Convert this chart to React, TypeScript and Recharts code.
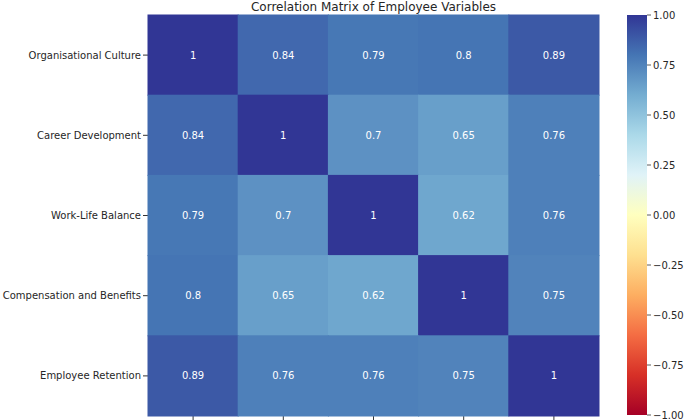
import { ScatterChart, Scatter, XAxis, YAxis } from 'recharts'

// Variables, in matrix order (rows top to bottom, columns left to right)
const variables = [
  'Organisational Culture',
  'Career Development',
  'Work-Life Balance',
  'Compensation and Benefits',
  'Employee Retention',
]

// Correlation values, one array per row
const organisationalCulture = [1, 0.84, 0.79, 0.8, 0.89]
const careerDevelopment = [0.84, 1, 0.7, 0.65, 0.76]
const workLifeBalance = [0.79, 0.7, 1, 0.62, 0.76]
const compensationBenefits = [0.8, 0.65, 0.62, 1, 0.75]
const employeeRetention = [0.89, 0.76, 0.76, 0.75, 1]

const matrix = [organisationalCulture, careerDevelopment, workLifeBalance, compensationBenefits, employeeRetention]

const colorbarTicks = [1, 0.75, 0.5, 0.25, 0, -0.25, -0.5, -0.75, -1]

// matplotlib RdYlBu stops, from -1 to 1
const rdylbu = ['#a50026', '#d73027', '#f46d43', '#fdae61', '#fee090', '#ffffbf', '#e0f3f8', '#abd9e9', '#74add1', '#4575b4', '#313695']

const hex = (c: string) => [1, 3, 5].map((i) => parseInt(c.slice(i, i + 2), 16))

function colorFor(v: number) {
  const t = Math.min(1, Math.max(0, (v + 1) / 2)) * (rdylbu.length - 1)
  const i = Math.min(rdylbu.length - 2, Math.floor(t))
  const f = t - i
  const a = hex(rdylbu[i])
  const b = hex(rdylbu[i + 1])
  const c = a.map((x, k) => Math.round(x + (b[k] - x) * f))
  return `rgb(${c[0]},${c[1]},${c[2]})`
}

const cells = matrix.flatMap((row, i) => row.map((v, j) => ({ x: j + 0.5, y: i + 0.5, v })))

const W = 685
const CHART_H = 470
const M = { top: 15, right: 86, left: 8, bottom: 0 }
const Y_W = 140
const X_H = CHART_H - 416
const plotW = W - M.left - Y_W - M.right
const plotH = CHART_H - M.top - M.bottom - X_H
const cellW = plotW / variables.length
const cellH = plotH / variables.length

const font = '"DejaVu Sans", sans-serif'

const Cell = (props: any) => {
  const { cx, cy, payload } = props
  return (
    <g>
      <rect
        x={cx - cellW / 2 - 0.5}
        y={cy - cellH / 2 - 0.5}
        width={cellW + 1}
        height={cellH + 1}
        fill={colorFor(payload.v)}
      />
      <text x={cx} y={cy} textAnchor="middle" dominantBaseline="central" fill="#ffffff" fontSize={10} fontFamily={font}>
        {String(payload.v)}
      </text>
    </g>
  )
}

// single-line row labels (Recharts would wrap long ones)
const RowTick = (props: any) => {
  const { x, y, payload } = props
  return (
    <text x={x} y={y} textAnchor="end" dominantBaseline="central" fontSize={10} fontFamily={font} fill="#262626">
      {variables[Math.floor(payload.value)]}
    </text>
  )
}

// column labels fall below the picture's bottom edge, as in the source figure
const NoLabel = () => <g />

function Colorbar() {
  const x = 627
  const top = 15
  const h = 400
  const w = 20
  const pos = (v: number) => top + ((1 - v) / 2) * h
  return (
    <svg width={W} height={420} style={{ position: 'absolute', left: 0, top: 0, pointerEvents: 'none' }}>
      <defs>
        <linearGradient id="rdylbu" x1="0" y1="1" x2="0" y2="0">
          {rdylbu.map((c, i) => (
            <stop key={i} offset={i / (rdylbu.length - 1)} stopColor={c} />
          ))}
        </linearGradient>
      </defs>
      <rect x={x} y={top} width={w} height={h} fill="url(#rdylbu)" />
      {colorbarTicks.map((t) => (
        <g key={t}>
          <line x1={x + w} x2={x + w + 4} y1={pos(t)} y2={pos(t)} stroke="#333" strokeWidth={0.8} />
          <text x={x + w + 6} y={pos(t)} dominantBaseline="central" fontSize={10} fontFamily={font} fill="#262626">
            {t.toFixed(2).replace('-', '\u2212')}
          </text>
        </g>
      ))}
    </svg>
  )
}

export default function App() {
  return (
    <div style={{ position: 'absolute', left: 0, top: 0, width: W, height: 420, overflow: 'hidden', background: '#fff' }}>
      <div
        style={{
          position: 'absolute',
          left: M.left + Y_W,
          width: plotW,
          top: 0,
          textAlign: 'center',
          fontFamily: font,
          fontSize: 12,
          lineHeight: '14px',
          color: '#262626',
        }}
      >
        Correlation Matrix of Employee Variables
      </div>
      <ScatterChart width={W} height={CHART_H} margin={M}>
        <XAxis
          type="number"
          dataKey="x"
          domain={[0, variables.length]}
          ticks={variables.map((_, i) => i + 0.5)}
          height={X_H}
          axisLine={false}
          tickSize={5}
          tickLine={{ stroke: '#333' }}
          tick={NoLabel}
          interval={0}
        />
        <YAxis
          type="number"
          dataKey="y"
          reversed
          domain={[0, variables.length]}
          ticks={variables.map((_, i) => i + 0.5)}
          width={Y_W}
          axisLine={false}
          tickSize={5}
          tickLine={{ stroke: '#333' }}
          tick={RowTick}
          interval={0}
        />
        <Scatter data={cells} shape={Cell} isAnimationActive={false} />
      </ScatterChart>
      <Colorbar />
    </div>
  )
}
